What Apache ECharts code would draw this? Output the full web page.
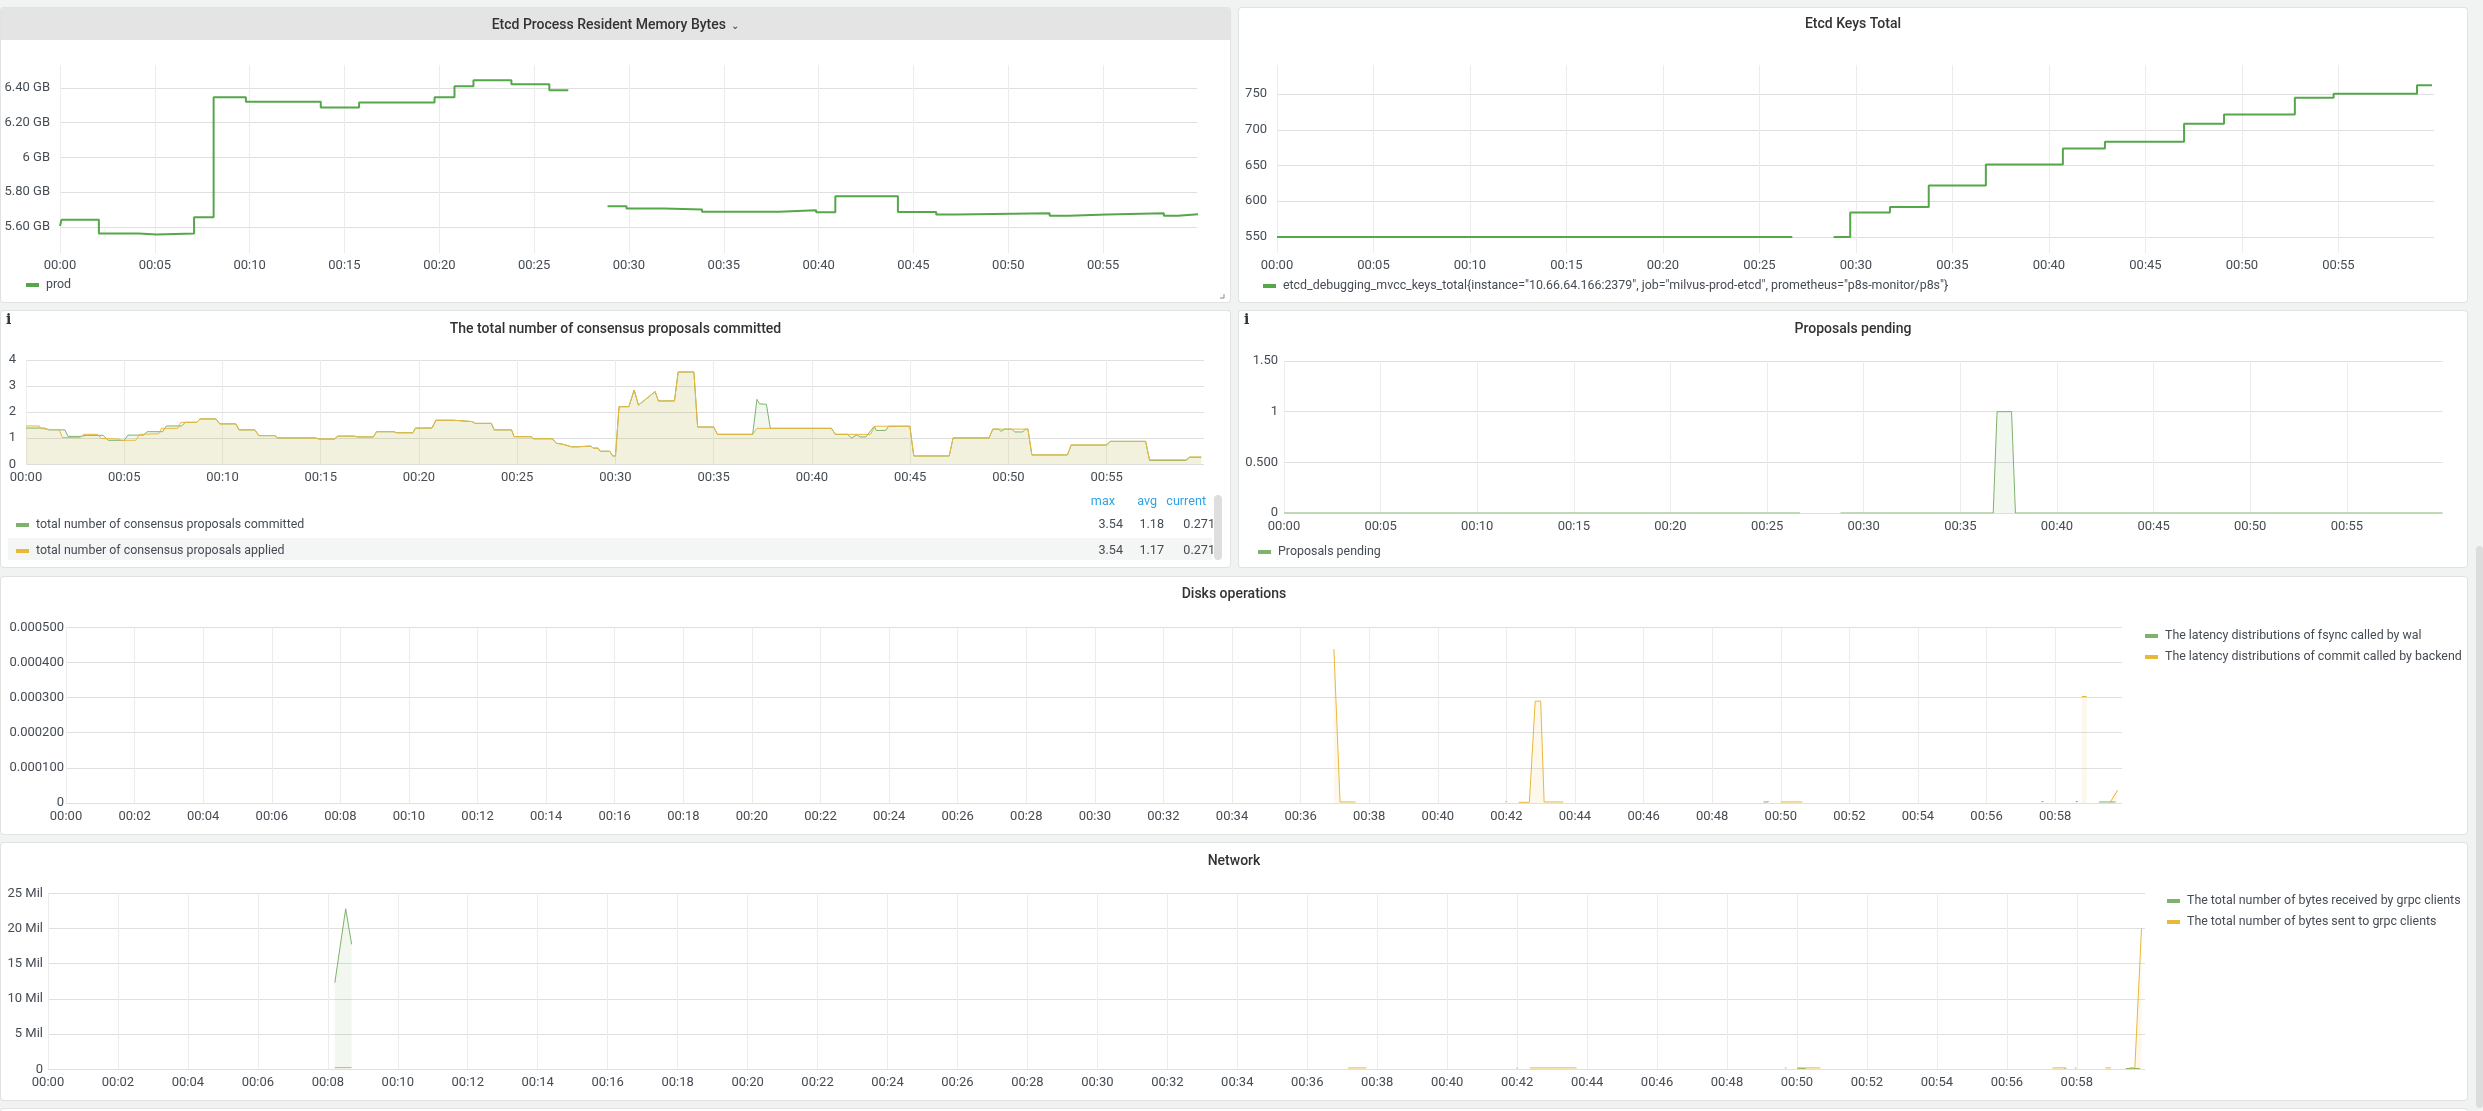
<!DOCTYPE html>
<html><head><meta charset="utf-8">
<script src="https://cdn.jsdelivr.net/npm/echarts@6/dist/echarts.min.js"></script>
<style>
html,body{margin:0;padding:0;background:#f1f2f2;width:2483px;height:1111px;overflow:hidden;font-family:Roboto,sans-serif;}
.panel{position:absolute;background:#fff;box-shadow:0 0 0 1px #e1e2e2;border-radius:3px;overflow:hidden;}
#sb{position:absolute;left:2476px;top:546px;width:7px;height:562px;background:#dcdcdc;border-radius:4px;}
</style></head><body>
<div class="panel" id="p1" style="left:1px;top:8px;width:1229px;height:294px"></div>
<div class="panel" id="p2" style="left:1239px;top:8px;width:1228px;height:294px"></div>
<div class="panel" id="p3" style="left:1px;top:311px;width:1229px;height:256px"></div>
<div class="panel" id="p4" style="left:1239px;top:311px;width:1228px;height:256px"></div>
<div class="panel" id="p5" style="left:1px;top:577px;width:2466px;height:257px"></div>
<div class="panel" id="p6" style="left:1px;top:843px;width:2466px;height:257px"></div>
<div class="panel" style="left:1px;top:1109px;width:2466px;height:20px"></div>
<div id="sb"></div>
<script>
// ---------- data (x = minutes after 00:00) ----------
const timeTicks5 = [0,5,10,15,20,25,30,35,40,45,50,55];
const timeTicks2 = [0,2,4,6,8,10,12,14,16,18,20,22,24,26,28,30,32,34,36,38,40,42,44,46,48,50,52,54,56,58];

const memTickValues = [5.6,5.8,6.0,6.2,6.4];
const memTickLabels = ['5.60 GB','5.80 GB','6 GB','6.20 GB','6.40 GB'];
const memData = [[0,5.605],[0.08,5.642],[2.05,5.562],[4.14,5.556],[5.1,5.562],[7.07,5.656],[8.1,6.346],[9.8,6.321],[13.75,6.287],[15.77,6.316],[19.75,6.346],[20.8,6.41],[21.8,6.444],[23.8,6.421],[25.8,6.387],[26.8,6.387],[26.81,null],[28.87,5.719],[29.87,5.706],[31.85,5.70],[33.85,5.688],[37.9,5.696],[39.87,5.684],[40.88,5.777],[44.18,5.686],[46.2,5.671],[47.24,5.679],[52.18,5.665],[53.2,5.671],[55.2,5.679],[58.2,5.665],[58.95,5.673],[60.0,5.673]];

const keysTickValues = [550,600,650,700,750];
const keysTickLabels = ['550','600','650','700','750'];
const keysData = [[0,550],[26.7,550],[26.71,null],[28.84,550],[29.7,584.1],[31.76,592],[33.77,622],[36.73,651.4],[40.72,673.8],[42.9,683.2],[47.0,708.4],[49.07,721.5],[52.74,744.9],[54.75,750.5],[59.07,762.1],[59.85,762.1]];

const consTickValues = [0,1,2,3,4];
const consTickLabels = ['0','1','2','3','4'];
const committedData = [[0,1.39],[0.95,1.39],[1.15,1.32],[1.98,1.32],[2.14,1.07],[2.76,1.07],[3.09,1.11],[3.93,1.11],[4.18,0.92],[5.0,0.92],[5.19,1.12],[5.97,1.12],[6.17,1.25],[6.95,1.25],[7.14,1.47],[7.92,1.47],[8.11,1.61],[8.70,1.61],[8.85,1.74],[9.67,1.74],[9.86,1.55],[10.68,1.55],[10.84,1.32],[11.65,1.32],[11.85,1.10],[12.67,1.10],[12.82,1.01],[14.73,1.01],[14.92,0.97],[15.70,0.97],[15.86,1.08],[16.71,1.08],[16.87,1.05],[17.68,1.05],[17.84,1.25],[18.72,1.25],[18.85,1.21],[19.69,1.21],[19.82,1.39],[20.66,1.39],[20.86,1.69],[21.73,1.69],[21.83,1.64],[22.70,1.64],[22.86,1.57],[23.68,1.57],[23.83,1.32],[24.71,1.32],[24.84,1.06],[25.72,1.06],[25.82,0.98],[26.79,0.98],[26.98,0.81],[27.37,0.76],[27.76,0.67],[28.05,0.67],[28.15,0.70],[28.74,0.70],[28.87,0.62],[29.12,0.62],[29.22,0.50],[29.71,0.50],[29.86,0.32],[30.0,0.32],[30.18,2.21],[30.68,2.21],[30.95,2.85],[31.17,2.27],[32.02,2.79],[32.18,2.43],[33.0,2.43],[33.19,3.54],[33.99,3.54],[34.18,1.43],[35.0,1.43],[35.19,1.15],[36.98,1.15],[37.2,2.49],[37.33,2.32],[37.68,2.30],[37.88,1.38],[40.99,1.38],[41.19,1.15],[41.81,1.15],[42.0,1.01],[42.3,1.13],[42.45,1.05],[42.74,1.05],[43.17,1.46],[43.27,1.30],[43.75,1.30],[43.9,1.46],[44.98,1.46],[45.18,0.32],[46.98,0.32],[47.18,1.01],[49.01,1.01],[49.2,1.35],[49.49,1.35],[49.63,1.26],[49.79,1.35],[50.17,1.35],[50.31,1.24],[50.72,1.24],[50.86,1.35],[50.99,1.35],[51.19,0.36],[53.0,0.36],[53.19,0.74],[55.0,0.74],[55.17,0.88],[56.98,0.88],[57.18,0.15],[59.03,0.15],[59.22,0.27],[59.81,0.27]];
const appliedData = [[0,1.47],[0.68,1.47],[0.76,1.37],[1.15,1.34],[1.69,1.32],[1.85,1.03],[2.76,1.02],[2.92,1.15],[3.64,1.15],[3.83,0.99],[4.71,0.97],[4.84,0.92],[5.58,0.92],[5.78,1.15],[6.75,1.17],[6.89,1.38],[7.72,1.38],[7.88,1.61],[8.70,1.61],[8.85,1.74],[9.67,1.74],[9.86,1.55],[10.68,1.55],[10.84,1.32],[11.65,1.32],[11.85,1.10],[12.67,1.10],[12.82,1.01],[14.73,1.01],[14.92,0.97],[15.70,0.97],[15.86,1.08],[16.71,1.08],[16.87,1.05],[17.68,1.05],[17.84,1.25],[18.72,1.25],[18.85,1.21],[19.69,1.21],[19.82,1.39],[20.66,1.39],[20.86,1.69],[21.73,1.69],[21.83,1.64],[22.70,1.64],[22.86,1.57],[23.68,1.57],[23.83,1.32],[24.71,1.32],[24.84,1.06],[25.72,1.06],[25.82,0.98],[26.79,0.98],[26.98,0.81],[27.37,0.76],[27.76,0.67],[28.05,0.67],[28.15,0.70],[28.74,0.70],[28.87,0.62],[29.12,0.62],[29.22,0.50],[29.71,0.50],[29.86,0.32],[30.0,0.32],[30.18,2.21],[30.68,2.21],[30.95,2.85],[31.17,2.27],[32.02,2.79],[32.18,2.43],[33.0,2.43],[33.19,3.54],[33.99,3.54],[34.18,1.43],[35.0,1.43],[35.19,1.15],[36.98,1.15],[37.2,1.38],[40.99,1.38],[41.19,1.15],[42.98,1.15],[43.21,1.46],[44.98,1.46],[45.18,0.32],[46.98,0.32],[47.18,1.01],[49.01,1.01],[49.2,1.35],[50.99,1.35],[51.19,0.36],[53.0,0.36],[53.19,0.74],[55.0,0.74],[55.17,0.88],[56.98,0.88],[57.18,0.17],[59.03,0.17],[59.22,0.28],[59.81,0.28]];
const consNames = ['total number of consensus proposals committed','total number of consensus proposals applied'];
const consStatHeaders = ['max','avg','current'];
const consStats = [['3.54','1.18','0.271'],['3.54','1.17','0.271']];

const pendingTickValues = [0,0.5,1,1.5];
const pendingTickLabels = ['0','0.500','1','1.50'];
const pendingData = [[0,0],[26.7,0],[26.71,null],[28.8,0],[36.7,0],[36.9,1],[37.65,1],[37.85,0],[59.95,0]];

const diskTickValues = [0,0.0001,0.0002,0.0003,0.0004,0.0005];
const diskTickLabels = ['0','0.000100','0.000200','0.000300','0.000400','0.000500'];
const diskFsync = [[49.5,0.000003],[49.62,0.000003],[49.63,null],[57.6,0.000004],[57.66,0.000004],[57.67,null],[58.6,0.000004],[58.66,0.000004],[58.67,null],[59.28,0.000003],[59.76,0.000003]];
const diskCommit = [[36.97,0.000438],[37.15,0.000003],[37.6,0.000003],[37.61,null],[41.97,0.000004],[42.02,0.000004],[42.03,null],[42.36,0.000002],[42.67,0.000002],[42.84,0.00029],[43.0,0.00029],[43.1,0.000003],[43.66,0.000003],[43.67,null],[49.6,0.000004],[49.66,0.000004],[49.67,null],[50.0,0.000003],[50.63,0.000003],[50.64,null],[58.78,0.000303],[58.92,0.000303],[58.93,null],[59.6,0.000001],[59.82,0.0000365]];

const netTickValues = [0,5,10,15,20,25];
const netTickLabels = ['0','5 Mil','10 Mil','15 Mil','20 Mil','25 Mil'];
const netReceived = [[8.2,12.3],[8.51,22.8],[8.68,17.75],[8.69,null],[50.02,0.12],[50.25,0.12],[50.26,null],[57.65,0.15],[57.7,0.15],[57.71,null],[59.4,0.12],[59.8,0.12]];
const netSent = [[8.2,0.25],[8.68,0.25],[8.69,null],[37.17,0.2],[37.69,0.2],[37.7,null],[41.98,0.2],[42.02,0.2],[42.03,null],[42.37,0.2],[43.7,0.2],[43.71,null],[49.65,0.2],[49.7,0.2],[49.71,null],[50.0,0.2],[50.67,0.2],[50.68,null],[57.3,0.2],[57.67,0.2],[57.68,null],[57.94,0.2],[57.99,0.2],[58.0,null],[58.82,0.2],[58.98,0.2],[58.99,null],[59.5,0.2],[59.66,0.2],[59.85,20.0]];

// ---------- styles ----------
const FONT = 'Roboto, "Noto Sans", sans-serif';
const TXT = '#464c54';
const GREEN = '#7EB26D', YELLOW = '#EAB839', DGREEN = '#56A64B';
const HGRID = '#dfdfdf', VGRID = '#ececec';
const LEG_FS = 12.4;
const TITLE_FS = 14;

function timeAxis(ticks, margin) {
  return { type:'value', min:0, max:59.95,
    axisLine:{show:false}, axisTick:{show:false, customValues:ticks},
    axisLabel:{customValues:ticks, formatter:v => '00:' + String(Math.round(v)).padStart(2,'0'),
      color:TXT, fontFamily:FONT, fontSize:13, margin:margin},
    splitLine:{show:true, lineStyle:{color:VGRID, width:1}} };
}
function valAxis(min, max, ticks, labels, margin) {
  return { type:'value', min:min, max:max,
    axisLine:{show:false}, axisTick:{show:false, customValues:ticks},
    axisLabel:{customValues:ticks, color:TXT, fontFamily:FONT, fontSize:13, margin:margin,
      formatter:v => { const i = ticks.findIndex(t => Math.abs(t - v) < 1e-12 + 1e-6*Math.abs(t)); return i >= 0 ? labels[i] : ''; }},
    splitLine:{show:true, lineStyle:{color:HGRID, width:1}} };
}
function titleOf(text, top) {
  return { text:text, left:'center', top:top, padding:0,
    textStyle:{fontFamily:FONT, fontSize:TITLE_FS, fontWeight:500, color:'#333', lineHeight:16} };
}
function legendOf(names, left, top, gap) {
  return { orient:'vertical', left:left, top:top, padding:0, itemGap:gap, itemWidth:13, itemHeight:4, icon:'rect',
    selectedMode:false, data:names,
    textStyle:{fontFamily:FONT, fontSize:LEG_FS, color:TXT, lineHeight:16, padding:[0,0,0,2]} };
}
function lineSeries(name, data, color, width, fill, step) {
  const s = { name:name, type:'line', data:data, showSymbol:false, symbol:'none', color:color,
    lineStyle:{width:width, color:color}, connectNulls:false, animation:false };
  if (fill) s.areaStyle = {opacity:0.1, color:color};
  if (step) s.step = step;
  return s;
}
function infoIcon() {
  return {type:'text', x:5, y:2, style:{text:'i', fill:'#333', font:'bold 14px "DejaVu Serif", serif'}};
}
function mk(id, opt) {
  const ch = echarts.init(document.getElementById(id), null, {renderer:'canvas'});
  opt.animation = false;
  ch.setOption(opt);
}

// Panel 1
mk('p1', {
  title: { text:'{a|Etcd Process Resident Memory Bytes} {b|⌄}', left:'center', top:8, padding:0,
    textStyle:{ rich:{ a:{fontFamily:FONT, fontSize:TITLE_FS, fontWeight:500, color:'#333', lineHeight:16},
      b:{fontFamily:'"DejaVu Sans"', fontSize:10, color:'#555', lineHeight:16, padding:[2,0,0,0]} } } },
  graphic: [
    {type:'rect', z:-10, shape:{x:0, y:0, width:1229, height:32}, style:{fill:'#e4e4e4'}},
    {type:'polyline', shape:{points:[[1219,290],[1223,290],[1223,286]]}, style:{stroke:'#888', lineWidth:1, fill:null}}
  ],
  grid:{left:59, right:33, top:57, bottom:49, outerBoundsMode:'none'},
  xAxis: timeAxis(timeTicks5, 6),
  yAxis: valAxis(5.45, 6.532, memTickValues, memTickLabels, 10),
  legend: legendOf(['prod'], 25, 269, 0),
  series: [lineSeries('prod', memData, DGREEN, 2, false, 'end')]
});

// Panel 2
const keysName = 'etcd_debugging_mvcc_keys_total{instance="10.66.64.166:2379", job="milvus-prod-etcd", prometheus="p8s-monitor/p8s"}';
mk('p2', {
  title: titleOf('Etcd Keys Total', 8),
  grid:{left:38, right:33, top:57, bottom:49, outerBoundsMode:'none'},
  xAxis: timeAxis(timeTicks5, 6),
  yAxis: valAxis(527.6, 790.6, keysTickValues, keysTickLabels, 10),
  legend: legendOf([keysName], 24, 270, 0),
  series: [lineSeries(keysName, keysData, DGREEN, 2, false, 'end')]
});

// Panel 3
const tblFont = '12.6px Roboto, sans-serif';
function tText(txt, x, y, color) {
  return {type:'text', x:x, y:y, style:{text:txt, fill:color, font:tblFont, align:'right', verticalAlign:'middle', textAlign:'right', textVerticalAlign:'middle'}};
}
const p3g = [
  infoIcon(),
  {type:'rect', z:-10, shape:{x:7, y:227, width:1204, height:22}, style:{fill:'#f4f5f5'}},
  tText(consStatHeaders[0], 1114, 191, '#33a2e5'),
  tText(consStatHeaders[1], 1156, 191, '#33a2e5'),
  tText(consStatHeaders[2], 1205, 191, '#33a2e5'),
  tText(consStats[0][0], 1122, 214, TXT), tText(consStats[0][1], 1163, 214, TXT), tText(consStats[0][2], 1214, 214, TXT),
  tText(consStats[1][0], 1122, 240, TXT), tText(consStats[1][1], 1163, 240, TXT), tText(consStats[1][2], 1214, 240, TXT),
  {type:'rect', z:10, shape:{x:1213, y:184, width:8, height:65, r:4}, style:{fill:'#dedede'}}
];
mk('p3', {
  title: titleOf('The total number of consensus proposals committed', 10),
  graphic: p3g,
  grid:{left:25, right:26, top:49, bottom:102.7, outerBoundsMode:'none'},
  xAxis: timeAxis(timeTicks5, 7),
  yAxis: valAxis(0, 4, consTickValues, consTickLabels, 10),
  legend: legendOf(consNames, 15, 206, 10),
  series: [lineSeries(consNames[0], committedData, GREEN, 1, true), lineSeries(consNames[1], appliedData, YELLOW, 1, true)]
});

// Panel 4
mk('p4', {
  title: titleOf('Proposals pending', 10),
  graphic: [infoIcon()],
  grid:{left:45, right:24.5, top:50, bottom:54, outerBoundsMode:'none'},
  xAxis: timeAxis(timeTicks5, 7.5),
  yAxis: valAxis(0, 1.5, pendingTickValues, pendingTickLabels, 6),
  legend: legendOf(['Proposals pending'], 19, 233, 0),
  series: [lineSeries('Proposals pending', pendingData, GREEN, 1, true)]
});

// Panel 5
const diskNames = ['The latency distributions of fsync called by wal','The latency distributions of commit called by backend'];
mk('p5', {
  title: titleOf('Disks operations', 9),
  grid:{left:65, right:345, top:50.3, bottom:31, outerBoundsMode:'none'},
  xAxis: timeAxis(timeTicks2, 7.5),
  yAxis: valAxis(0, 0.0005, diskTickValues, diskTickLabels, 2),
  legend: legendOf(diskNames, 2144, 51, 5),
  series: [lineSeries(diskNames[0], diskFsync, GREEN, 1, true), lineSeries(diskNames[1], diskCommit, YELLOW, 1, true)]
});

// Panel 6
const netNames = ['The total number of bytes received by grpc clients','The total number of bytes sent to grpc clients'];
mk('p6', {
  title: titleOf('Network', 10),
  grid:{left:47, right:322, top:50.3, bottom:30.7, outerBoundsMode:'none'},
  xAxis: timeAxis(timeTicks2, 7),
  yAxis: valAxis(0, 25, netTickValues, netTickLabels, 5),
  legend: legendOf(netNames, 2166, 50, 5),
  series: [lineSeries(netNames[0], netReceived, GREEN, 1, true), lineSeries(netNames[1], netSent, YELLOW, 1, true)]
});
</script>
</body></html>
